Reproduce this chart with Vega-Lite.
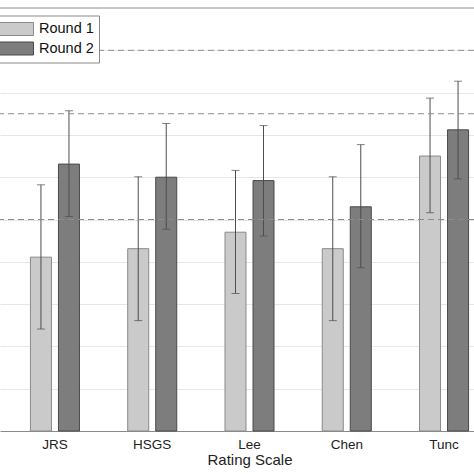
{
  "$schema": "https://vega.github.io/schema/vega-lite/v6.json",
  "width": 474,
  "height": 423,
  "autosize": "none",
  "padding": {"left": 0, "top": 8, "right": 0, "bottom": 43},
  "background": "white",
  "config": {
    "view": {"stroke": null},
    "font": "Liberation Sans"
  },
  "datasets": {
    "bars": [
      {"scale": "JRS", "round": "Round 1", "mean": 0.411, "lo": 0.241, "hi": 0.582},
      {"scale": "JRS", "round": "Round 2", "mean": 0.631, "lo": 0.507, "hi": 0.757},
      {"scale": "HSGS", "round": "Round 1", "mean": 0.431, "lo": 0.261, "hi": 0.601},
      {"scale": "HSGS", "round": "Round 2", "mean": 0.600, "lo": 0.477, "hi": 0.727},
      {"scale": "Lee", "round": "Round 1", "mean": 0.470, "lo": 0.325, "hi": 0.616},
      {"scale": "Lee", "round": "Round 2", "mean": 0.592, "lo": 0.461, "hi": 0.722},
      {"scale": "Chen", "round": "Round 1", "mean": 0.431, "lo": 0.261, "hi": 0.601},
      {"scale": "Chen", "round": "Round 2", "mean": 0.530, "lo": 0.386, "hi": 0.677},
      {"scale": "Tunc", "round": "Round 1", "mean": 0.650, "lo": 0.516, "hi": 0.787},
      {"scale": "Tunc", "round": "Round 2", "mean": 0.712, "lo": 0.596, "hi": 0.827}
    ],
    "thresholds": [
      {"level": 0.5},
      {"level": 0.75},
      {"level": 0.9}
    ],
    "frame": [
      {"level": 1.0}
    ]
  },
  "layer": [
    {
      "data": {"name": "bars"},
      "mark": {"type": "bar", "strokeWidth": 1},
      "encoding": {
        "x": {
          "field": "scale",
          "type": "nominal",
          "sort": ["JRS", "HSGS", "Lee", "Chen", "Tunc"],
          "scale": {"range": [0, 499], "paddingInner": 0.2, "paddingOuter": 0.165},
          "axis": {
            "title": "Rating Scale",
            "labelAngle": 0,
            "ticks": false,
            "domainColor": "#8a8a8a",
            "domainWidth": 1,
            "labelFontSize": 13.5,
            "labelColor": "#222222",
            "labelPadding": 6,
            "titleFontSize": 15,
            "titleFontWeight": "normal",
            "titleColor": "#222222",
            "titlePadding": 2,
            "grid": false
          }
        },
        "xOffset": {
          "field": "round",
          "type": "nominal",
          "scale": {"paddingInner": 0.25, "paddingOuter": 0.514}
        },
        "y": {
          "field": "mean",
          "type": "quantitative",
          "scale": {"domain": [0, 1], "nice": false},
          "axis": {
            "title": null,
            "labels": false,
            "ticks": false,
            "domain": false,
            "grid": true,
            "gridColor": "#e6e6e6",
            "gridWidth": 1,
            "values": [0.1, 0.2, 0.3, 0.4, 0.5, 0.6, 0.7, 0.8, 0.9]
          }
        },
        "fill": {
          "field": "round",
          "type": "nominal",
          "scale": {"domain": ["Round 1", "Round 2"], "range": ["#cacaca", "#7d7d7d"]},
          "legend": {
            "title": null,
            "orient": "none",
            "legendX": -12,
            "legendY": 7.5,
            "padding": 5,
            "strokeColor": "#8a8a8a",
            "fillColor": "white",
            "symbolType": "M-1,-0.8125H4V0.8125H-1Z",
            "symbolSize": 256,
            "symbolStrokeColor": "#666666",
            "symbolStrokeWidth": 1,
            "symbolOpacity": 1,
            "labelFontSize": 14.5,
            "labelColor": "#111111",
            "labelOffset": 29,
            "rowPadding": 2.5,
            "labelFont": "Liberation Sans"
          }
        },
        "stroke": {
          "field": "round",
          "type": "nominal",
          "scale": {"domain": ["Round 1", "Round 2"], "range": ["#8a8a8a", "#4a4a4a"]},
          "legend": null
        }
      }
    },
    {
      "data": {"name": "bars"},
      "mark": {"type": "rule", "color": "#4d4d4d", "strokeWidth": 1},
      "encoding": {
        "x": {"field": "scale", "type": "nominal", "sort": ["JRS", "HSGS", "Lee", "Chen", "Tunc"]},
        "xOffset": {"field": "round", "type": "nominal"},
        "y": {"field": "lo", "type": "quantitative"},
        "y2": {"field": "hi"}
      }
    },
    {
      "data": {"name": "bars"},
      "mark": {"type": "tick", "color": "#4d4d4d", "thickness": 1, "size": 8, "orient": "horizontal"},
      "encoding": {
        "x": {"field": "scale", "type": "nominal", "sort": ["JRS", "HSGS", "Lee", "Chen", "Tunc"]},
        "xOffset": {"field": "round", "type": "nominal"},
        "y": {"field": "lo", "type": "quantitative"}
      }
    },
    {
      "data": {"name": "bars"},
      "mark": {"type": "tick", "color": "#4d4d4d", "thickness": 1, "size": 8, "orient": "horizontal"},
      "encoding": {
        "x": {"field": "scale", "type": "nominal", "sort": ["JRS", "HSGS", "Lee", "Chen", "Tunc"]},
        "xOffset": {"field": "round", "type": "nominal"},
        "y": {"field": "hi", "type": "quantitative"}
      }
    },
    {
      "data": {"name": "thresholds"},
      "mark": {"type": "rule", "color": "#8c8c8c", "strokeWidth": 1, "strokeDash": [6, 4]},
      "encoding": {
        "y": {"field": "level", "type": "quantitative"}
      }
    },
    {
      "data": {"name": "frame"},
      "mark": {"type": "rule", "color": "#8a8a8a", "strokeWidth": 1},
      "encoding": {
        "y": {"field": "level", "type": "quantitative"}
      }
    }
  ]
}
